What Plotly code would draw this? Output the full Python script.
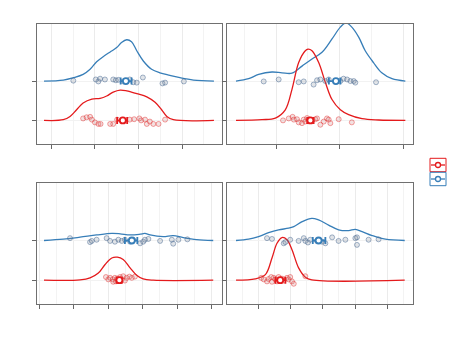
import plotly.graph_objects as go

RED = "#E41A1C"
BLUE = "#377EB8"

# ---------------- Top-left panel ----------------
tl_blue_dens_x = [8.33, 12.75, 15.05, 17.3, 18.9, 20.4, 21.9, 23.5, 25.0, 26.1, 27.3, 28.4, 29.6, 31.1, 33.0, 34.9, 37.2, 39.5, 42.6, 47.3]
tl_blue_dens_h = [0.0, 0.026, 0.085, 0.17, 0.30, 0.49, 0.62, 0.74, 0.85, 0.98, 1.05, 1.0, 0.77, 0.51, 0.30, 0.21, 0.145, 0.085, 0.026, 0.0]
tl_red_dens_x = [8.33, 12.75, 14.3, 15.8, 17.3, 19.3, 21.2, 22.7, 24.2, 25.8, 27.3, 29.6, 31.9, 33.8, 35.3, 36.5, 38.0, 47.3]
tl_red_dens_h = [0.0, 0.017, 0.10, 0.27, 0.44, 0.54, 0.56, 0.62, 0.72, 0.77, 0.75, 0.68, 0.60, 0.46, 0.27, 0.10, 0.017, 0.0]
tl_blue_pts_x = [15.05, 20.2, 20.8, 21.2, 22.3, 24.2, 24.8, 25.4, 26.5, 28.0, 28.8, 29.6, 31.0, 35.5, 36.1, 40.4]
tl_blue_pts_dy = [0.01, 0.04, -0.01, 0.06, 0.04, 0.04, 0.02, 0.03, -0.01, 0.04, -0.03, -0.04, 0.09, -0.06, -0.04, -0.01]
tl_red_pts_x = [17.3, 18.1, 18.9, 19.3, 20.0, 20.8, 21.3, 23.5, 24.2, 25.1, 28.0, 29.0, 30.2, 30.6, 31.5, 31.9, 32.6, 33.4, 34.6, 36.1]
tl_red_pts_dy = [0.05, 0.08, 0.09, 0.02, -0.05, -0.09, -0.09, -0.09, -0.09, 0.02, 0.02, 0.03, 0.05, 0.0, 0.02, -0.09, -0.03, -0.09, -0.09, 0.02]
tl_blue_stat = [27.1, 25.9, 28.4]   # mean, low, high
tl_red_stat = [26.4, 25.1, 27.4]

# ---------------- Top-right panel ----------------
tr_blue_dens_x = [3.72, 5.71, 7.28, 9.37, 10.94, 12.51, 14.08, 15.65, 17.22, 18.79, 20.1, 21.0, 21.9, 23.0, 24.0, 25.3, 26.6, 28.2, 30.3]
tr_blue_dens_h = [0.0, 0.06, 0.17, 0.23, 0.21, 0.20, 0.38, 0.56, 0.73, 1.07, 1.37, 1.48, 1.37, 1.11, 0.77, 0.47, 0.21, 0.06, 0.0]
tr_red_dens_x = [3.72, 7.8, 9.9, 11.46, 12.51, 13.56, 14.6, 15.02, 15.65, 16.7, 17.74, 18.79, 20.1, 21.4, 23.5, 26.1, 30.3]
tr_red_dens_h = [0.0, 0.017, 0.06, 0.27, 0.79, 1.47, 1.77, 1.81, 1.77, 1.47, 0.97, 0.53, 0.27, 0.145, 0.043, 0.01, 0.0]
tr_blue_pts_x = [8.07, 10.42, 13.56, 14.35, 15.9, 16.44, 16.96, 17.74, 18.27, 19.31, 20.1, 20.6, 21.15, 21.67, 22.2, 22.45, 25.7]
tr_blue_pts_dy = [-0.01, 0.04, -0.03, -0.01, -0.09, 0.02, 0.04, 0.0, 0.04, -0.01, 0.0, 0.06, 0.04, 0.0, 0.0, -0.04, -0.03]
tr_red_pts_x = [11.1, 12.0, 12.6, 12.8, 13.3, 13.56, 14.08, 14.35, 14.6, 14.87, 15.23, 15.65, 16.17, 16.44, 16.96, 17.49, 18.0, 18.27, 18.53, 19.84, 21.9]
tr_red_pts_dy = [0.0, 0.05, 0.09, 0.02, 0.03, -0.05, -0.07, 0.02, -0.03, 0.06, 0.02, -0.01, 0.03, 0.05, -0.11, -0.03, 0.05, 0.02, -0.07, 0.03, -0.05]
tr_blue_stat = [19.4, 18.3, 20.1]
tr_red_stat = [15.4, 14.9, 15.9]

# ---------------- Bottom-left panel ----------------
bl_blue_dens_x = [1.45, 7.05, 11.9, 16.7, 21.1, 23.5, 26.4, 29.3, 30.7, 32.2, 36.0, 38.9, 41.8, 45.7, 50.5]
bl_blue_dens_h = [0.0, 0.033, 0.083, 0.14, 0.18, 0.17, 0.14, 0.16, 0.18, 0.14, 0.10, 0.125, 0.075, 0.025, 0.0]
bl_red_dens_x = [1.45, 11.9, 14.8, 17.2, 19.1, 21.1, 22.7, 24.4, 26.4, 28.3, 30.2, 33.1, 50.5]
bl_red_dens_h = [0.0, 0.008, 0.058, 0.18, 0.39, 0.56, 0.58, 0.52, 0.31, 0.125, 0.033, 0.0, 0.0]
bl_blue_pts_x = [8.99, 14.8, 15.3, 16.7, 19.6, 20.6, 22.0, 23.0, 24.0, 24.9, 26.4, 27.3, 29.3, 30.2, 30.7, 31.7, 35.1, 38.5, 38.9, 40.4, 43.0]
bl_blue_pts_dy = [0.06, -0.04, -0.01, 0.02, 0.06, -0.01, -0.03, 0.02, -0.01, 0.02, -0.03, 0.02, -0.07, -0.03, 0.02, 0.04, -0.01, 0.02, -0.08, 0.02, 0.03]
bl_red_pts_x = [19.4, 20.1, 20.6, 21.4, 21.5, 22.0, 22.3, 22.7, 23.5, 24.0, 24.4, 24.9, 25.4, 26.2, 26.9, 27.8]
bl_red_pts_dy = [0.08, 0.02, 0.06, 0.02, -0.04, 0.06, -0.03, 0.04, 0.08, 0.02, 0.10, -0.01, 0.06, 0.09, 0.06, 0.09]
bl_blue_stat = [26.9, 24.9, 28.5]
bl_red_stat = [23.3, 22.5, 24.0]

# ---------------- Bottom-right panel ----------------
br_blue_dens_x = [3.1, 7.0, 10.1, 13.2, 16.3, 19.4, 21.0, 23.6, 26.6, 28.7, 31.8, 34.9, 38.0, 40.1, 42.2, 45.3, 49.4, 55.4]
br_blue_dens_h = [0.0, 0.033, 0.10, 0.20, 0.27, 0.31, 0.35, 0.475, 0.56, 0.52, 0.39, 0.27, 0.25, 0.28, 0.225, 0.125, 0.033, 0.0]
br_red_dens_x = [3.1, 9.07, 12.2, 14.25, 15.8, 17.35, 18.9, 20.45, 22.5, 24.6, 26.6, 55.4]
br_red_dens_h = [0.0, 0.033, 0.14, 0.56, 0.93, 1.075, 1.02, 0.77, 0.31, 0.075, 0.008, 0.0]
br_blue_pts_x = [12.7, 14.25, 17.9, 18.4, 19.9, 22.5, 24.1, 24.6, 25.4, 26.1, 28.2, 29.75, 30.8, 32.9, 34.9, 37.0, 40.1, 40.6, 40.6, 44.2, 47.3]
br_blue_pts_dy = [0.06, 0.04, -0.07, -0.04, 0.02, -0.01, 0.06, -0.01, -0.05, 0.02, -0.01, -0.03, -0.07, 0.08, -0.01, 0.02, 0.06, 0.08, -0.11, 0.02, 0.03]
br_red_pts_x = [10.9, 11.7, 12.7, 13.2, 14.0, 14.25, 14.8, 15.3, 15.8, 16.3, 17.35, 17.9, 18.9, 19.4, 19.9, 20.45, 21.0, 24.6]
br_red_pts_dy = [0.06, 0.02, -0.03, 0.03, 0.08, -0.04, 0.06, 0.02, -0.03, 0.08, 0.04, -0.01, 0.06, 0.02, 0.08, -0.03, -0.09, 0.10]
br_blue_stat = [28.7, 26.9, 30.8]
br_red_stat = [16.8, 15.3, 18.4]

BASE_RED, BASE_BLUE = 1, 2

panels = [
    ("", [6.72, 49.15], tl_blue_dens_x, tl_blue_dens_h, tl_red_dens_x, tl_red_dens_h,
     tl_blue_pts_x, tl_blue_pts_dy, tl_red_pts_x, tl_red_pts_dy, tl_blue_stat, tl_red_stat),
    ("2", [2.31, 31.5], tr_blue_dens_x, tr_blue_dens_h, tr_red_dens_x, tr_red_dens_h,
     tr_blue_pts_x, tr_blue_pts_dy, tr_red_pts_x, tr_red_pts_dy, tr_blue_stat, tr_red_stat),
    ("3", [-0.58, 53.04], bl_blue_dens_x, bl_blue_dens_h, bl_red_dens_x, bl_red_dens_h,
     bl_blue_pts_x, bl_blue_pts_dy, bl_red_pts_x, bl_red_pts_dy, bl_blue_stat, bl_red_stat),
    ("4", [0.3, 57.97], br_blue_dens_x, br_blue_dens_h, br_red_dens_x, br_red_dens_h,
     br_blue_pts_x, br_blue_pts_dy, br_red_pts_x, br_red_pts_dy, br_blue_stat, br_red_stat),
]

W, H = 474, 338
xdomains = {"": [37 / W, 222 / W], "2": [227 / W, 413 / W], "3": [37 / W, 222 / W], "4": [227 / W, 413 / W]}
ydomains = {"": [1 - 144 / H, 1 - 24 / H], "2": [1 - 144 / H, 1 - 24 / H],
            "3": [1 - 304 / H, 1 - 183 / H], "4": [1 - 304 / H, 1 - 183 / H]}

fig = go.Figure()
fill = {RED: "rgba(200,120,120,0.22)", BLUE: "rgba(120,130,150,0.22)"}
edge = {RED: "rgba(228,26,28,0.45)", BLUE: "rgba(60,95,140,0.50)"}

layout_axes = {}
for (sfx, xr, bdx, bdh, rdx, rdh, bpx, bpdy, rpx, rpdy, bst, rst) in panels:
    xa, ya = "x" + sfx, "y" + sfx
    for dx, dh, base, col in [(bdx, bdh, BASE_BLUE, BLUE), (rdx, rdh, BASE_RED, RED)]:
        fig.add_trace(go.Scatter(x=dx, y=[base + h for h in dh], mode="lines",
                                 line=dict(color=col, width=1.3, shape="spline", smoothing=1.0),
                                 xaxis=xa, yaxis=ya, hoverinfo="skip"))
    for px, pdy, base, col in [(bpx, bpdy, BASE_BLUE, BLUE), (rpx, rpdy, BASE_RED, RED)]:
        fig.add_trace(go.Scatter(x=px, y=[base + d for d in pdy], mode="markers",
                                 marker=dict(size=5, color=fill[col], line=dict(color=edge[col], width=0.9)),
                                 xaxis=xa, yaxis=ya))
    for st, base, col in [(bst, BASE_BLUE, BLUE), (rst, BASE_RED, RED)]:
        fig.add_trace(go.Scatter(x=[st[0]], y=[base], mode="markers",
                                 marker=dict(size=6, color="white", line=dict(color=col, width=1.8)),
                                 error_x=dict(type="data", symmetric=False, array=[st[2] - st[0]],
                                              arrayminus=[st[0] - st[1]], color=col, thickness=1.8, width=3.5),
                                 xaxis=xa, yaxis=ya))
    layout_axes["xaxis" + sfx] = dict(
        domain=xdomains[sfx], range=xr, anchor=ya, tick0=0, dtick=10,
        showticklabels=False, ticks="outside", ticklen=4, tickcolor="#666", tickwidth=1,
        showline=True, linecolor="#707070", linewidth=1, mirror=True,
        showgrid=True, gridcolor="#ebebeb", gridwidth=1, zeroline=False,
        minor=dict(dtick=5, tick0=0, showgrid=True, gridcolor="#f3f3f3", gridwidth=1, ticks=""))
    layout_axes["yaxis" + sfx] = dict(
        domain=ydomains[sfx], range=[0.4, 3.45], anchor=xa, tickvals=[1, 2],
        showticklabels=False, ticks="outside", ticklen=4, tickcolor="#666",
        showline=True, linecolor="#707070", linewidth=1, mirror=True,
        showgrid=True, gridcolor="#f2f2f2", gridwidth=1, zeroline=False)

# legend keys (no text), drawn in paper coordinates
shapes = []
for (y0, y1, col) in [(158.3, 171.7, RED), (172.3, 185.7, BLUE)]:
    shapes.append(dict(type="rect", xref="paper", yref="paper", x0=430 / W, x1=446 / W,
                       y0=1 - y1 / H, y1=1 - y0 / H, line=dict(color=col, width=1), fillcolor="white"))
    ym = 1 - (y0 + y1) / 2 / H
    shapes.append(dict(type="line", xref="paper", yref="paper", x0=431 / W, x1=445 / W,
                       y0=ym, y1=ym, line=dict(color=col, width=1.3)))
    shapes.append(dict(type="circle", xref="paper", yref="paper", x0=435.5 / W, x1=440.5 / W,
                       y0=ym - 2.5 / H, y1=ym + 2.5 / H, line=dict(color=col, width=1.3), fillcolor="white"))

fig.update_layout(width=W, height=H, margin=dict(l=0, r=0, t=0, b=0),
                  paper_bgcolor="white", plot_bgcolor="white", showlegend=False,
                  shapes=shapes, **layout_axes)
fig.write_html("out.html")
